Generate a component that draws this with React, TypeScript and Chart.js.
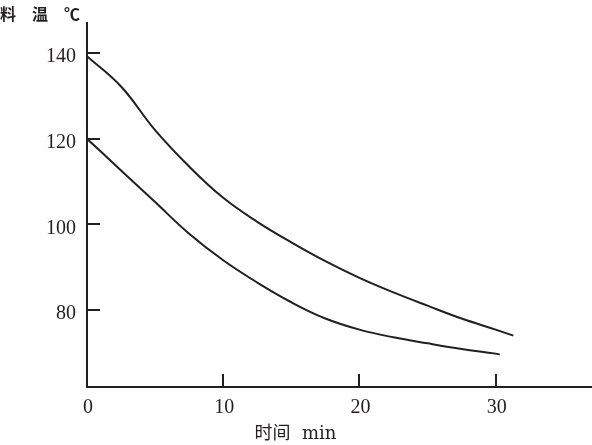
import React, { useEffect, useRef } from "react";
import { Chart, registerables } from "chart.js";

Chart.register(...registerables);

// time (min) and material temperature (°C)
const upperTime = [0, 2.5, 5, 7.5, 10, 12.5, 15, 17.5, 20, 22.5, 25, 27.5, 30, 31.3];
const upperTemp = [139.3, 132.2, 122.0, 113.5, 106.2, 100.6, 95.8, 91.4, 87.5, 84.1, 81.0, 78.0, 75.4, 74.0];
const lowerTime = [0, 2.5, 5, 7.5, 10, 12.5, 15, 17.5, 20, 22.5, 25, 27.5, 30, 30.3];
const lowerTemp = [120, 112.6, 105.2, 97.8, 91.6, 86.4, 81.8, 78.0, 75.4, 73.6, 72.2, 70.9, 69.8, 69.6];

const xTicks = [0, 10, 20, 30];
const yTicks = [80, 100, 120, 140];

const yTitle = "料　温　℃";
const xTitle = "时间  min";

const INK = "#231f20";

const innerTicks = {
  id: "innerTicks",
  afterDatasetsDraw(chart: any) {
    const { ctx, chartArea, scales } = chart;
    const len = 13;
    ctx.save();
    ctx.strokeStyle = INK;
    ctx.lineWidth = 2;
    ctx.beginPath();
    for (const v of yTicks) {
      const y = Math.round(scales.y.getPixelForValue(v));
      ctx.moveTo(chartArea.left, y);
      ctx.lineTo(chartArea.left + len, y);
    }
    for (const v of xTicks) {
      if (v === scales.x.min) continue;
      const x = Math.round(scales.x.getPixelForValue(v));
      ctx.moveTo(x, chartArea.bottom);
      ctx.lineTo(x, chartArea.bottom - len);
    }
    ctx.stroke();
    ctx.restore();
  },
};

export default function App() {
  const ref = useRef<HTMLCanvasElement>(null);

  useEffect(() => {
    if (!ref.current) return;
    const toPts = (xs: number[], ys: number[]) => xs.map((x, i) => ({ x, y: ys[i] }));
    const lineStyle = {
      borderColor: INK,
      borderWidth: 2,
      pointRadius: 0,
      fill: false,
      tension: 0.4,
    };
    const chart = new Chart(ref.current, {
      type: "line",
      data: {
        datasets: [
          { label: "upper", data: toPts(upperTime, upperTemp), ...lineStyle },
          { label: "lower", data: toPts(lowerTime, lowerTemp), ...lineStyle },
        ],
      },
      plugins: [innerTicks],
      options: {
        animation: false,
        responsive: false,
        devicePixelRatio: 1,
        layout: { padding: { left: 0, right: 1, top: 0, bottom: 0 } },
        plugins: {
          legend: { display: false },
          tooltip: { enabled: false },
          title: {
            display: true,
            text: yTitle,
            align: "start",
            color: INK,
            font: { family: '"Noto Sans CJK SC"', size: 16, weight: "bold", lineHeight: 1.2 },
            padding: { top: 4, bottom: 0 },
          },
          subtitle: {
            display: true,
            position: "bottom",
            text: xTitle,
            align: "center",
            color: INK,
            font: { family: '"DejaVu Serif", "Noto Sans CJK SC"', size: 18, lineHeight: 1.2 },
            padding: { top: 6.4, bottom: 0 },
          },
        },
        scales: {
          x: {
            type: "linear",
            min: 0,
            max: 37,
            afterBuildTicks: (s: any) => {
              s.ticks = xTicks.map((v) => ({ value: v }));
            },
            afterFit: (s: any) => {
              s.height = 30;
            },
            grid: { display: false, drawTicks: false },
            border: { display: true, color: INK, width: 2 },
            ticks: {
              color: INK,
              padding: 9,
              labelOffset: 1,
              maxRotation: 0,
              autoSkip: false,
              font: { family: '"Liberation Serif"', size: 20 },
            },
          },
          y: {
            type: "linear",
            min: 62,
            max: 147,
            afterBuildTicks: (s: any) => {
              s.ticks = yTicks.map((v) => ({ value: v }));
            },
            afterFit: (s: any) => {
              s.width = 87;
            },
            grid: { display: false, drawTicks: false },
            border: { display: true, color: INK, width: 2 },
            ticks: {
              color: INK,
              padding: 11,
              labelOffset: 4,
              autoSkip: false,
              font: { family: '"Liberation Serif"', size: 20 },
            },
          },
        },
      },
    });
    return () => chart.destroy();
  }, []);

  return (
    <div style={{ position: "fixed", left: 0, top: 0, width: 592, height: 445, background: "#fff" }}>
      <canvas ref={ref} width={592} height={445} style={{ display: "block" }} />
    </div>
  );
}
